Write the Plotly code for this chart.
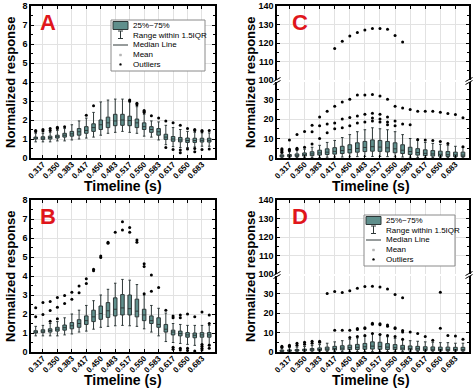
import plotly.graph_objects as go

# ---------------- data ----------------
timeline = ["0.300", "0.317", "0.333", "0.350", "0.367", "0.383", "0.400", "0.417", "0.433",
            "0.450", "0.467", "0.483", "0.500", "0.517", "0.533", "0.550", "0.567", "0.583",
            "0.600", "0.617", "0.633", "0.650", "0.667", "0.683", "0.700"]
tick_labels = ["0.317", "0.350", "0.383", "0.417", "0.450", "0.483",
               "0.517", "0.550", "0.583", "0.617", "0.650", "0.683"]
legend_labels = ["25%~75%", "Range within 1.5IQR", "Median Line", "Mean", "Outliers"]

# Panel A
A_q1 = [1.00, 0.98, 1.00, 1.05, 1.10, 1.15, 1.20, 1.30, 1.40, 1.50, 1.60, 1.70, 1.72,
        1.70, 1.60, 1.50, 1.35, 1.20, 0.98, 0.88, 0.85, 0.82, 0.82, 0.84, 0.84]
A_med = [1.05, 1.05, 1.08, 1.12, 1.20, 1.27, 1.38, 1.45, 1.60, 1.75, 1.85, 1.95, 2.00,
         1.97, 1.85, 1.65, 1.50, 1.38, 1.10, 1.00, 0.95, 0.92, 0.92, 0.93, 0.93]
A_q3 = [1.10, 1.12, 1.15, 1.20, 1.30, 1.40, 1.55, 1.65, 1.80, 2.00, 2.15, 2.30, 2.30,
        2.20, 2.05, 1.85, 1.65, 1.55, 1.25, 1.13, 1.08, 1.05, 1.04, 1.04, 1.04]
A_lo = [0.85, 0.85, 0.85, 0.90, 0.90, 0.95, 1.00, 1.05, 1.10, 1.20, 1.30, 1.35, 1.40,
        1.35, 1.30, 1.15, 1.10, 0.95, 0.70, 0.60, 0.55, 0.55, 0.58, 0.62, 0.62]
A_hi = [1.30, 1.30, 1.35, 1.45, 1.55, 1.75, 1.95, 2.10, 2.40, 2.95, 3.05, 3.10, 3.10,
        2.95, 2.70, 2.30, 1.95, 1.90, 1.72, 1.60, 1.50, 1.40, 1.35, 1.32, 1.32]
A_out = [[1.40, 1.45], [1.42, 1.50], [1.45, 1.55], [1.55, 1.62], [1.65], [], [], [2.25],
         [2.75], [], [], [], [], [3.00, 3.05], [2.80, 2.88], [2.40, 2.45, 2.50], [2.22],
         [2.10], [1.95, 0.55], [1.85, 0.45], [1.72, 0.42, 0.27], [1.55, 0.48],
         [1.45, 1.50, 0.50, 0.33], [1.40, 1.45, 0.45], [1.45, 0.48]]

# Panel B
B_q1 = [1.00, 1.02, 1.05, 1.10, 1.15, 1.22, 1.30, 1.45, 1.60, 1.72, 1.82, 1.90, 1.95,
        1.95, 1.85, 1.65, 1.50, 1.30, 1.05, 0.90, 0.85, 0.78, 0.75, 0.78, 0.78]
B_med = [1.05, 1.10, 1.13, 1.20, 1.28, 1.38, 1.50, 1.65, 1.85, 2.02, 2.17, 2.25, 2.32,
         2.28, 2.15, 1.95, 1.65, 1.45, 1.20, 1.05, 0.97, 0.90, 0.88, 0.90, 0.90]
B_q3 = [1.12, 1.17, 1.22, 1.30, 1.42, 1.55, 1.70, 1.90, 2.20, 2.42, 2.60, 2.85, 3.02,
        3.00, 2.78, 2.25, 1.90, 1.80, 1.45, 1.15, 1.10, 1.02, 1.00, 1.02, 1.02]
B_lo = [0.85, 0.85, 0.85, 0.85, 0.90, 0.95, 1.05, 1.10, 1.20, 1.30, 1.35, 1.38, 1.40,
        1.38, 1.35, 1.22, 1.05, 0.85, 0.55, 0.50, 0.45, 0.40, 0.35, 0.40, 0.40]
B_hi = [1.35, 1.40, 1.50, 1.60, 1.80, 2.00, 2.20, 2.45, 2.70, 3.00, 3.30, 3.62, 3.82,
        3.78, 3.55, 3.00, 2.45, 2.30, 2.05, 1.50, 1.45, 1.40, 1.40, 1.40, 1.40]
B_out = [[1.85, 2.33], [1.97, 2.60], [1.62, 2.18, 2.66], [1.75, 2.35, 2.87], [2.55, 2.98],
         [2.78, 3.15], [3.12, 3.47], [3.60, 3.85], [4.28, 4.36], [4.98, 5.05],
         [5.72, 5.78], [6.30], [6.42, 6.85], [6.30, 6.55], [5.78, 5.90],
         [3.07, 4.50, 4.65], [3.20, 4.05], [3.40], [2.20], [1.80, 1.90, 0.25, 0.15],
         [1.80, 1.95, 0.20, 0.10], [2.00, 0.20, 0.08], [1.85, 0.05],
         [2.10, 0.10, 0.20, 0.30, 0.40], [1.95, 1.50, 0.20, 0.35]]

# Panel C
C_q1 = [0.6, 0.7, 0.8, 1.0, 1.2, 1.5, 1.8, 2.0, 2.3, 2.6, 3.0, 3.3, 3.5, 3.4, 3.1, 2.7,
        2.3, 1.8, 1.5, 1.2, 1.0, 0.9, 0.8, 0.7, 0.7]
C_med = [1.1, 1.2, 1.4, 1.7, 2.1, 2.6, 3.0, 3.4, 3.8, 4.3, 4.9, 5.4, 5.8, 5.6, 5.2, 4.7,
         4.0, 3.3, 2.8, 2.4, 2.1, 1.9, 1.7, 1.6, 1.5]
C_q3 = [1.6, 1.8, 2.1, 2.6, 3.2, 4.0, 4.7, 5.3, 6.0, 6.8, 7.8, 8.5, 9.3, 9.0, 8.5, 7.8,
        6.8, 5.5, 4.8, 4.2, 3.8, 3.5, 3.3, 3.0, 3.0]
C_lo = [0.1, 0.1, 0.2, 0.2, 0.3, 0.3, 0.4, 0.5, 0.5, 0.6, 0.7, 0.8, 0.8, 0.8, 0.7, 0.6,
        0.5, 0.4, 0.3, 0.3, 0.2, 0.2, 0.2, 0.1, 0.1]
C_hi = [2.5, 3.2, 4.0, 4.5, 5.5, 6.5, 8.0, 9.0, 10.5, 12.0, 13.5, 14.5, 15.5, 15.0, 14.5,
        13.5, 12.0, 10.0, 9.0, 8.0, 7.5, 7.0, 6.5, 6.0, 5.5]
C_out = [[3.0, 3.6, 4.2, 4.8], [3.8, 4.5, 9.3], [4.5, 5.0, 12.0], [5.5, 13.6],
         [7.2, 13.5, 16.8], [10.0, 16.5, 21.1], [13.0, 17.5, 24.0],
         [15.0, 18.0, 26.6, 117.0], [15.5, 20.0, 28.7, 121.0],
         [16.5, 20.8, 30.1, 123.8], [18.0, 21.5, 32.3, 125.7],
         [18.5, 22.5, 32.3, 127.0], [19.0, 20.5, 23.0, 32.6, 127.8],
         [18.5, 20.0, 22.5, 31.8, 127.8], [17.0, 18.5, 21.0, 30.1, 127.4],
         [16.5, 19.0, 26.6, 124.0], [17.5, 25.7, 120.5], [17.0, 24.9],
         [9.5, 24.0], [9.3, 24.0], [9.0, 24.0], [8.5, 23.5], [7.5, 22.8], [22.3],
         [5.8, 20.6]]

# Panel D
D_q1 = [0.3, 0.4, 0.5, 0.6, 0.7, 0.8, 0.9, 1.0, 1.1, 1.2, 1.3, 1.4, 1.5, 1.4, 1.3, 1.2,
        1.1, 1.0, 0.9, 0.8, 0.8, 0.7, 0.7, 0.7, 0.7]
D_med = [0.6, 0.7, 0.8, 0.9, 1.1, 1.3, 1.5, 1.8, 2.0, 2.2, 2.4, 2.7, 3.0, 2.8, 2.5, 2.2,
         2.0, 1.8, 1.7, 1.5, 1.4, 1.3, 1.3, 1.3, 1.3]
D_q3 = [1.0, 1.1, 1.3, 1.5, 1.8, 2.1, 2.5, 2.9, 3.2, 3.5, 3.9, 4.4, 5.2, 5.0, 4.3, 3.8,
        3.4, 3.1, 2.9, 2.7, 2.6, 2.5, 2.5, 2.4, 2.4]
D_lo = [0.05, 0.05, 0.1, 0.1, 0.1, 0.1, 0.2, 0.2, 0.2, 0.2, 0.3, 0.3, 0.3, 0.3, 0.3, 0.2,
        0.2, 0.2, 0.2, 0.1, 0.1, 0.1, 0.1, 0.1, 0.1]
D_hi = [2.0, 2.2, 2.5, 2.8, 3.3, 3.8, 4.5, 5.2, 5.8, 6.5, 7.2, 8.0, 9.5, 9.0, 7.8, 7.0,
        6.3, 5.8, 5.5, 5.2, 5.0, 4.8, 4.8, 4.5, 4.5]
D_out = [[2.5, 3.0], [3.0, 3.5], [3.5, 4.5], [4.0, 5.0], [4.5, 5.5], [5.0, 5.5],
         [30.0], [11.2, 31.1], [11.2, 30.5], [7.5, 11.2, 31.4],
         [8.0, 11.5, 12.0, 32.7], [8.5, 12.0, 12.5, 33.6], [9.5, 14.2, 14.8, 33.8],
         [9.0, 14.0, 14.5, 33.4], [8.5, 13.2, 13.9, 32.3], [8.0, 12.0, 12.5, 29.5],
         [6.5, 10.3, 11.0, 27.9], [10.3], [9.5], [8.0], [6.0], [12.2, 30.7], [8.5],
         [8.2], [6.5]]

# ---------------- styling ----------------
W, H = 474, 388
FONT = "Liberation Sans, Arial, sans-serif"
BOX_FILL = "#5f8f8c"
BOX_LINE = "#2e3838"
GRID = "#e2e2e2"


def px(x):
    return x / W


def py(y):
    return 1 - y / H


fig = go.Figure()


def add_panel(xa, ya, q1, med, q3, lo, hi, out, xa_up=None, ya_up=None, split=None):
    fig.add_trace(go.Box(
        x=timeline, q1=q1, median=med, q3=q3, lowerfence=lo, upperfence=hi,
        xaxis=xa, yaxis=ya, fillcolor=BOX_FILL, line=dict(color=BOX_LINE, width=1),
        whiskerwidth=0.7, boxpoints=False, showlegend=False, hoverinfo="skip"))
    ox, oy, ux, uy = [], [], [], []
    for t, vals in zip(timeline, out):
        for v in vals:
            if split is not None and v >= split:
                ux.append(t)
                uy.append(v)
            else:
                ox.append(t)
                oy.append(v)
    fig.add_trace(go.Scatter(x=ox, y=oy, mode="markers", xaxis=xa, yaxis=ya,
                             marker=dict(color="black", size=3), showlegend=False,
                             hoverinfo="skip"))
    if xa_up is not None:
        # upper segment of the broken axis (may hold no points)
        fig.add_trace(go.Scatter(x=ux if ux else [None], y=uy if uy else [None],
                                 mode="markers", xaxis=xa_up, yaxis=ya_up,
                                 marker=dict(color="black", size=3), showlegend=False,
                                 hoverinfo="skip"))


add_panel("x", "y", A_q1, A_med, A_q3, A_lo, A_hi, A_out)
add_panel("x2", "y2", B_q1, B_med, B_q3, B_lo, B_hi, B_out)
add_panel("x3", "y3", C_q1, C_med, C_q3, C_lo, C_hi, C_out, "x4", "y4", 100)
add_panel("x5", "y5", D_q1, D_med, D_q3, D_lo, D_hi, D_out, "x6", "y6", 100)

tickfont = dict(family=FONT, size=9, color="black", weight="bold")
xtickfont = dict(family=FONT, size=8, color="black", weight="bold")

xcommon = dict(type="category", categoryorder="array", categoryarray=timeline,
               range=[-0.65, 24.8], tickmode="array", tickvals=tick_labels,
               ticktext=tick_labels, tickangle=-45, tickfont=xtickfont,
               ticklabelstandoff=-3,
               ticks="inside", ticklen=3, tickcolor="black",
               showgrid=True, gridcolor=GRID, gridwidth=1,
               showline=True, linecolor="black", linewidth=1.5,
               zeroline=False, automargin=False, fixedrange=True)

ycommon = dict(tickfont=tickfont, ticks="inside", ticklen=3, tickcolor="black",
               showgrid=True, gridcolor=GRID, gridwidth=1,
               showline=True, linecolor="black", linewidth=1.5,
               zeroline=False, automargin=False, fixedrange=True)

xA = [px(31), px(215)]
xC = [px(277), px(469)]

fig.update_layout(
    xaxis=dict(xcommon, domain=xA, anchor="y", mirror="allticks"),
    yaxis=dict(ycommon, domain=[py(158), py(6)], anchor="x", range=[0, 8], dtick=1,
               mirror="allticks", minor=dict(ticks="inside", ticklen=2, dtick=0.5,
                                             tickcolor="black", showgrid=False)),
    xaxis2=dict(xcommon, domain=xA, anchor="y2", mirror="allticks"),
    yaxis2=dict(ycommon, domain=[py(352), py(200)], anchor="x2", range=[0, 8], dtick=1,
                mirror="allticks", minor=dict(ticks="inside", ticklen=2, dtick=0.5,
                                              tickcolor="black", showgrid=False)),
    xaxis3=dict(xcommon, domain=xC, anchor="y3"),
    yaxis3=dict(ycommon, domain=[py(158), py(82)], anchor="x3", range=[0, 39],
                tickvals=[0, 10, 20, 30], mirror="allticks",
                minor=dict(ticks="inside", ticklen=2, tickvals=[5, 15, 25, 35],
                           tickcolor="black", showgrid=False)),
    xaxis4=dict(xcommon, domain=xC, anchor="y4", side="top", matches="x3",
                showticklabels=False),
    yaxis4=dict(ycommon, domain=[py(80), py(6)], anchor="x4", range=[100, 140],
                tickvals=[100, 110, 120, 130, 140], mirror="allticks",
                minor=dict(ticks="inside", ticklen=2, tickvals=[105, 115, 125, 135],
                           tickcolor="black", showgrid=False)),
    xaxis5=dict(xcommon, domain=xC, anchor="y5"),
    yaxis5=dict(ycommon, domain=[py(352), py(276)], anchor="x5", range=[0, 39],
                tickvals=[0, 10, 20, 30], mirror="allticks",
                minor=dict(ticks="inside", ticklen=2, tickvals=[5, 15, 25, 35],
                           tickcolor="black", showgrid=False)),
    xaxis6=dict(xcommon, domain=xC, anchor="y6", side="top", matches="x5",
                showticklabels=False),
    yaxis6=dict(ycommon, domain=[py(274), py(200)], anchor="x6", range=[100, 140],
                tickvals=[100, 110, 120, 130, 140], mirror="allticks",
                minor=dict(ticks="inside", ticklen=2, tickvals=[105, 115, 125, 135],
                           tickcolor="black", showgrid=False)),
    width=W, height=H, margin=dict(l=0, r=0, t=0, b=0, autoexpand=False),
    plot_bgcolor="white", paper_bgcolor="white", showlegend=False,
    font=dict(family=FONT, color="black"),
)

# titles and panel letters
ann = []
for letter, x, y in [("A", 48, 22), ("B", 48, 216), ("C", 300, 22), ("D", 300, 216)]:
    ann.append(dict(text=letter, x=px(x), y=py(y), xref="paper", yref="paper",
                    xanchor="center", yanchor="middle", showarrow=False,
                    font=dict(family=FONT, size=22, color="#e0161b", weight="bold")))
for x, y in [(10, 82), (10, 276), (250, 82), (250, 276)]:
    ann.append(dict(text="Normalized response", x=px(x), y=py(y), xref="paper",
                    yref="paper", xanchor="center", yanchor="middle", showarrow=False,
                    textangle=-90,
                    font=dict(family=FONT, size=13, color="black", weight="bold")))
for x, y in [(123, 186), (371, 186), (123, 380), (371, 380)]:
    ann.append(dict(text="Timeline (s)", x=px(x), y=py(y), xref="paper", yref="paper",
                    xanchor="center", yanchor="middle", showarrow=False,
                    font=dict(family=FONT, size=14, color="black", weight="bold")))

shapes = []
# axis-break marks
for yb in (81, 275):
    for xb in (277, 469):
        for dy in (-1.5, 1.5):
            shapes.append(dict(type="line", xref="paper", yref="paper",
                               x0=px(xb - 3.5), y0=py(yb + dy + 2),
                               x1=px(xb + 3.5), y1=py(yb + dy - 2),
                               line=dict(color="black", width=1)))


# hand-drawn key boxes (panel A and panel D)
def add_key(ox, oy, w):
    def rect(x0, y0, x1, y1, **kw):
        shapes.append(dict(type="rect", xref="paper", yref="paper", layer="above",
                           x0=px(ox + x0), x1=px(ox + x1), y0=py(oy + y0), y1=py(oy + y1),
                           **kw))

    def line(x0, y0, x1, y1, color=BOX_LINE):
        shapes.append(dict(type="line", xref="paper", yref="paper", layer="above",
                           x0=px(ox + x0), x1=px(ox + x1), y0=py(oy + y0), y1=py(oy + y1),
                           line=dict(color=color, width=1)))

    rect(0, 0, w, 51, fillcolor="white", line=dict(color="#8a8a8a", width=1))
    rect(2, 1.5, 17, 9.5, fillcolor=BOX_FILL, line=dict(color=BOX_LINE, width=1))
    line(9.5, 11, 9.5, 18.5)
    line(7, 11, 12, 11)
    line(7, 18.5, 12, 18.5)
    line(2, 25, 17, 25)
    rect(8.5, 34, 10.5, 36, fillcolor="#b5b5b5", line=dict(color="#b5b5b5", width=0.5))
    shapes.append(dict(type="circle", xref="paper", yref="paper", layer="above",
                       x0=px(ox + 8.3), x1=px(ox + 10.7), y0=py(oy + 43.2),
                       y1=py(oy + 45.6), fillcolor="black", line=dict(width=0)))
    for i, lab in enumerate(legend_labels):
        ann.append(dict(text=lab, x=px(ox + 20), y=py(oy + 5.2 + i * 9.8), xref="paper",
                        yref="paper", xanchor="left", yanchor="middle", showarrow=False,
                        font=dict(family=FONT, size=8, color="black")))


add_key(111, 20, 94)
add_key(364, 215, 91)

fig.update_layout(annotations=ann, shapes=shapes)

fig.write_html("out.html", config={"displayModeBar": False},
               post_script="document.body.style.margin='0';"
                           "document.body.style.padding='0';")
